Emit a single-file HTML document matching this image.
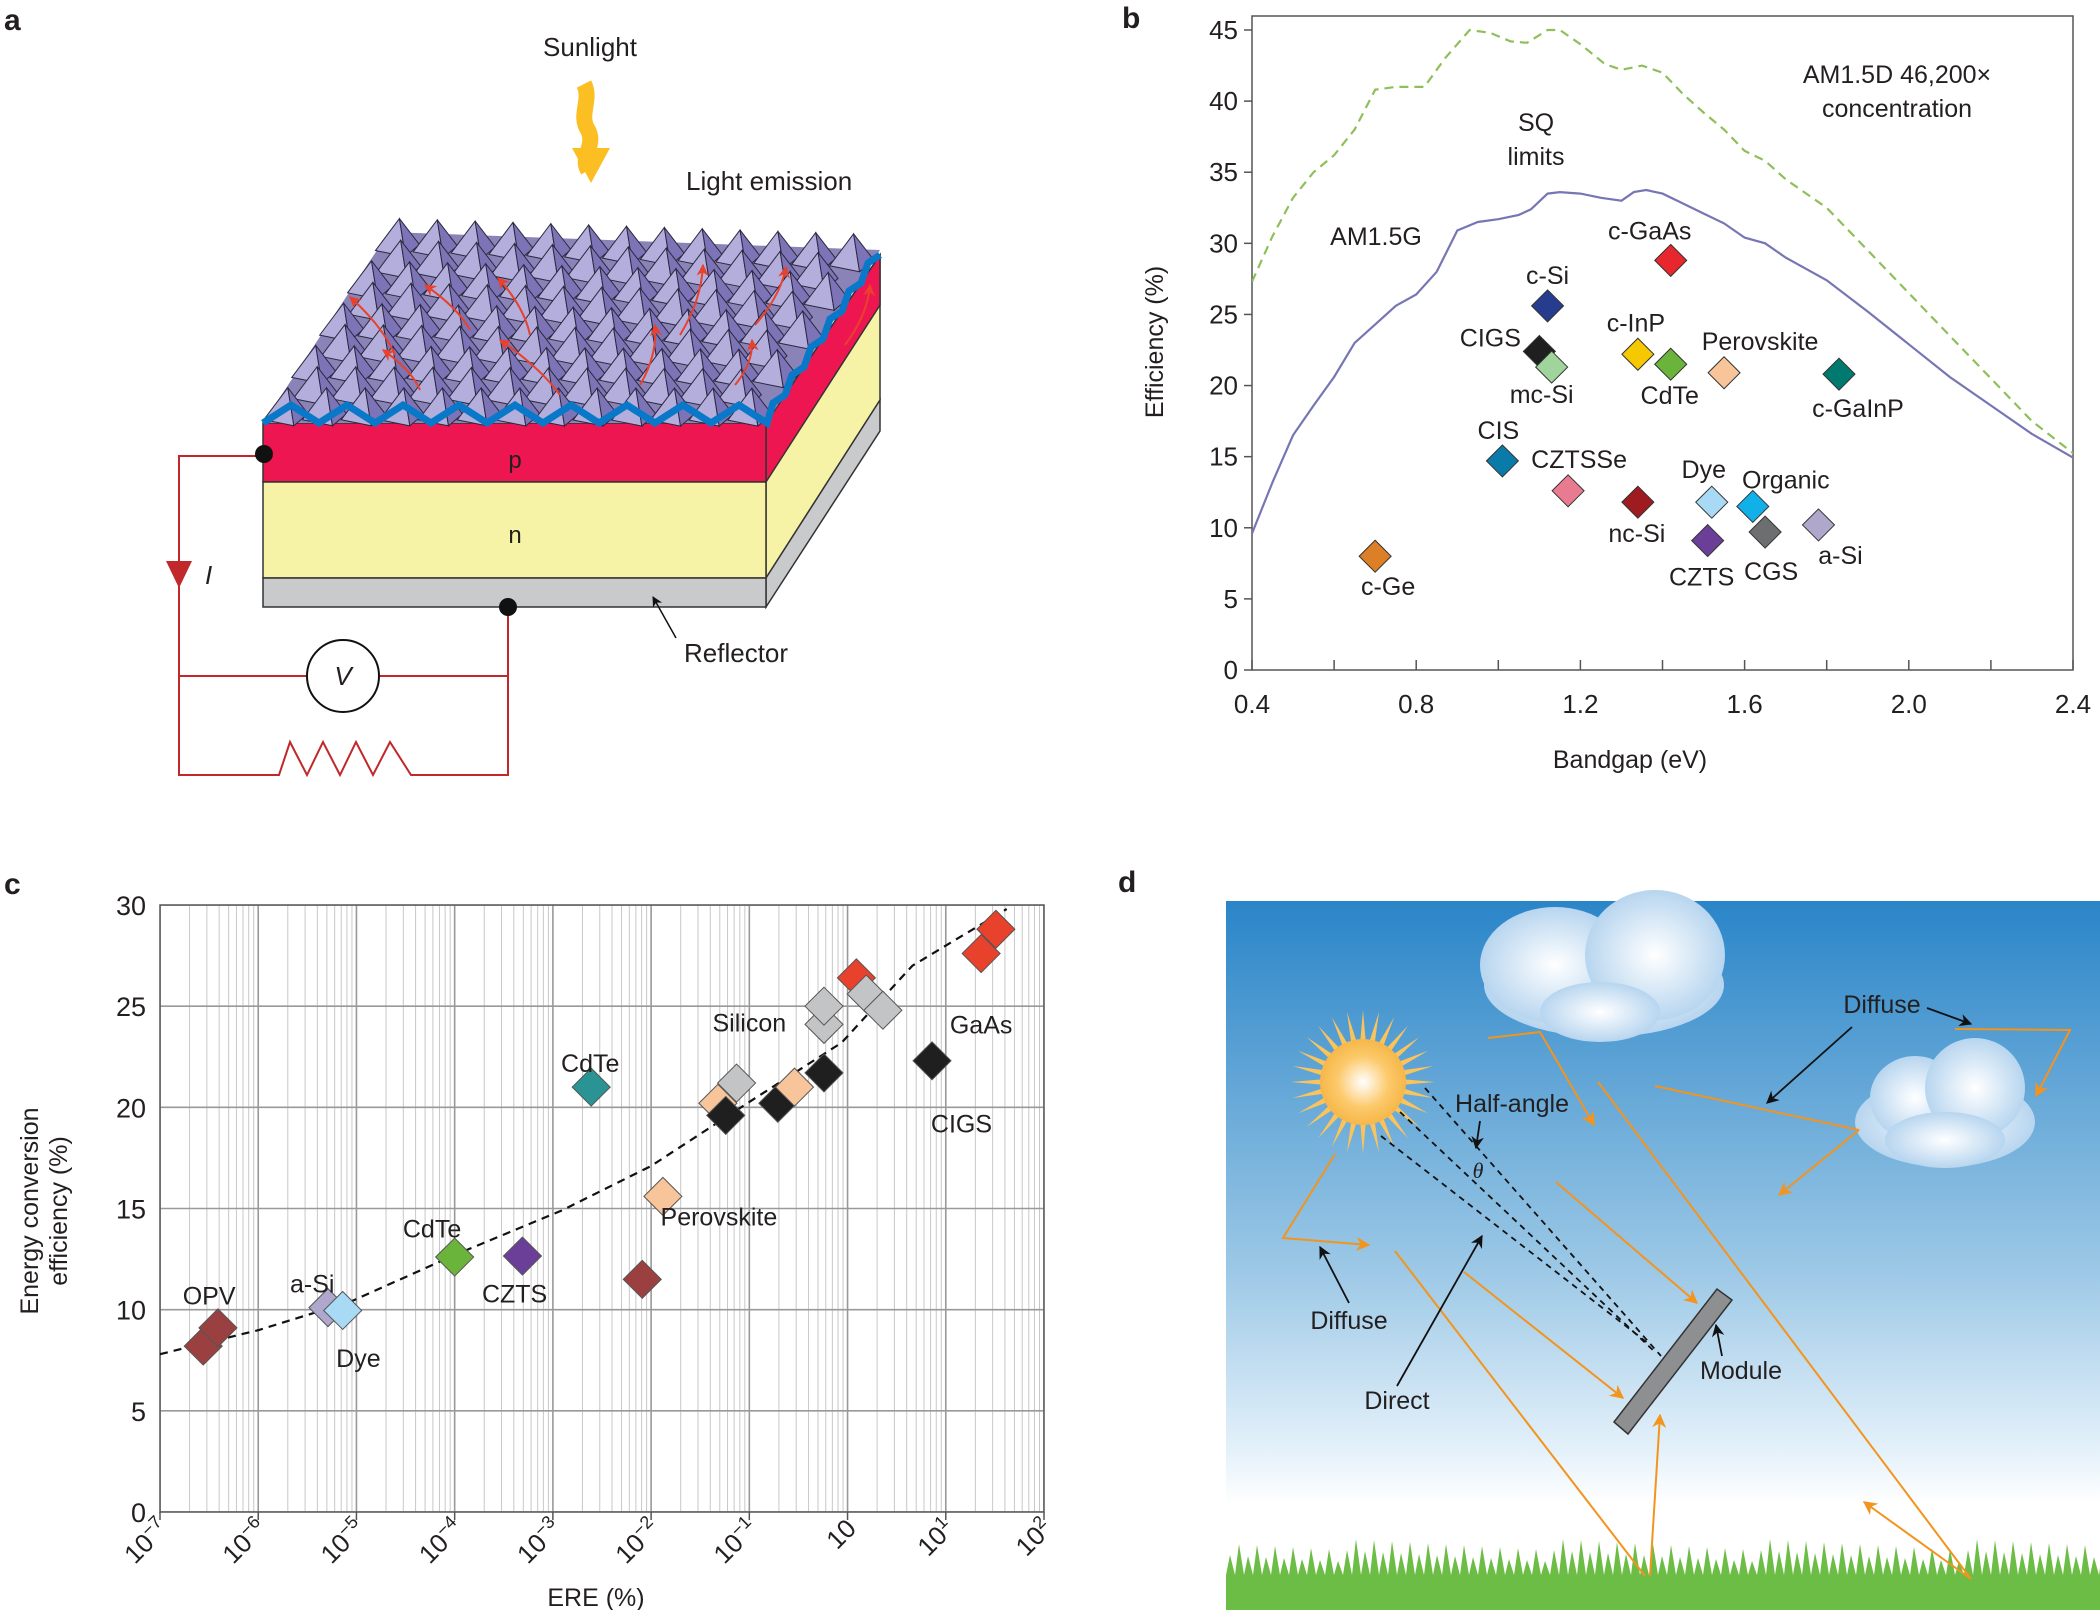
<!DOCTYPE html>
<html><head><meta charset="utf-8">
<style>
html,body{margin:0;padding:0;background:#fff;}
svg{display:block;font-family:"Liberation Sans",sans-serif;}
text{fill:#231f20;}
</style></head>
<body>
<svg id="fig" xmlns="http://www.w3.org/2000/svg" width="2100" height="1610" viewBox="0 0 2100 1610">
<defs>
  <linearGradient id="sky" x1="0" y1="0" x2="0" y2="1">
    <stop offset="0" stop-color="#2a85c8"/>
    <stop offset="0.55" stop-color="#9cc8e6"/>
    <stop offset="0.82" stop-color="#e4f1fa"/>
    <stop offset="0.9" stop-color="#ffffff"/>
    <stop offset="1" stop-color="#ffffff"/>
  </linearGradient>
  <radialGradient id="cloudg" cx="0.5" cy="0.5" r="0.6">
    <stop offset="0" stop-color="#ffffff"/>
    <stop offset="1" stop-color="#a9cdec"/>
  </radialGradient>
  <radialGradient id="sung" cx="0.5" cy="0.5" r="0.5">
    <stop offset="0" stop-color="#ffffff"/>
    <stop offset="0.6" stop-color="#fcc96a"/>
    <stop offset="1" stop-color="#f6b749"/>
  </radialGradient>
  <marker id="oa" viewBox="0 0 10 10" refX="9" refY="5" markerWidth="7" markerHeight="7" orient="auto-start-reverse"><path d="M0,0 L10,5 L0,10 L3,5 z" fill="#f2941e"/></marker>
  <marker id="ba" viewBox="0 0 10 10" refX="9" refY="5" markerWidth="7" markerHeight="7" orient="auto-start-reverse"><path d="M0,0 L10,5 L0,10 L3,5 z" fill="#111"/></marker>
  <marker id="ra" viewBox="0 0 10 10" refX="9" refY="5" markerWidth="6" markerHeight="6" orient="auto-start-reverse"><path d="M0,0 L10,5 L0,10 L3,5 z" fill="#e8412c"/></marker>
  <clipPath id="cclip"><rect x="160" y="905" width="884" height="607"/></clipPath>
  <clipPath id="bclip"><rect x="1252" y="16" width="821" height="654"/></clipPath>
</defs>

<!-- ================= PANEL A ================= -->
<g id="panelA">
  <text x="4" y="30" font-size="30" font-weight="bold">a</text>
  <text x="590" y="56" font-size="26" text-anchor="middle">Sunlight</text>
  <path d="M584,84 C592,100 578,115 588,130 C596,145 580,158 588,170" stroke="#fbbf24" stroke-width="16" fill="none"/>
  <polygon points="572,148 610,148 591,183" fill="#fbbf24"/>
  <text x="686" y="190" font-size="26">Light emission</text>
  <polygon points="766,423 880,255 880,400 766,578" fill="#f6f3a6" stroke="#333" stroke-width="1.5"/>
  <polygon points="766,423 880,255 880,305 766,482" fill="#ee1650" stroke="#333" stroke-width="1.5"/>
  <polygon points="766,578 880,400 880,431 766,607" fill="#c9cacc" stroke="#333" stroke-width="1.5"/>
  <rect x="263" y="423" width="503" height="59" fill="#ee1650" stroke="#333" stroke-width="1.5"/>
  <rect x="263" y="482" width="503" height="96" fill="#f6f3a6" stroke="#333" stroke-width="1.5"/>
  <rect x="263" y="578" width="503" height="29" fill="#c9cacc" stroke="#333" stroke-width="1.5"/>
  <polygon points="263,423 389,232 880,250 766,423" fill="#8a83b8"/>
  <g id="pyramids"></g>
  <path id="bluezig" d="" fill="none" stroke="#0a78c8" stroke-width="7"/>
  <g id="emit"></g>
  <text x="515" y="468" font-size="24" text-anchor="middle">p</text>
  <text x="515" y="543" font-size="24" text-anchor="middle">n</text>
  <g stroke="#c0282a" stroke-width="2" fill="none">
    <polyline points="263,456 179,456 179,775 279,775 290,742 307,775 323,742 340,775 356,742 373,775 390,742 411,775 508,775 508,607"/>
    <line x1="179" y1="676" x2="307" y2="676"/>
    <line x1="379" y1="676" x2="508" y2="676"/>
  </g>
  <polygon points="166,561 192,561 179,588" fill="#c0282a"/>
  <text x="205" y="584" font-size="26" font-style="italic">I</text>
  <circle cx="343" cy="676" r="36" fill="#fff" stroke="#111" stroke-width="2"/>
  <text x="343" y="685" font-size="26" font-style="italic" text-anchor="middle">V</text>
  <circle cx="264" cy="454" r="9" fill="#111"/>
  <circle cx="508" cy="607" r="9" fill="#111"/>
  <line x1="676" y1="638" x2="653" y2="597" stroke="#111" stroke-width="1.5" marker-end="url(#ba)"/>
  <text x="684" y="662" font-size="26">Reflector</text>
</g>

<!-- ================= PANEL B ================= -->
<g id="panelB">
  <text x="1122" y="28" font-size="30" font-weight="bold">b</text>
  <rect x="1252" y="16" width="821" height="654" fill="none" stroke="#555" stroke-width="1.5"/>
  <g id="bAxes"></g>
  <g id="bCurves" clip-path="url(#bclip)"></g>
  <g id="bPoints"></g>
  <text x="1897" y="83" font-size="25" text-anchor="middle">AM1.5D 46,200×</text>
  <text x="1897" y="117" font-size="25" text-anchor="middle">concentration</text>
  <text x="1536" y="131" font-size="25" text-anchor="middle">SQ</text>
  <text x="1536" y="165" font-size="25" text-anchor="middle">limits</text>
  <text x="1376" y="245" font-size="25" text-anchor="middle">AM1.5G</text>
  <text x="1630" y="768" font-size="25" text-anchor="middle">Bandgap (eV)</text>
  <text x="0" y="0" font-size="25" text-anchor="middle" transform="translate(1163,342) rotate(-90)">Efficiency (%)</text>
</g>

<!-- ================= PANEL C ================= -->
<g id="panelC">
  <text x="4" y="894" font-size="30" font-weight="bold">c</text>
  <rect x="160" y="905" width="884" height="607" fill="#fff"/>
  <g id="cGrid" clip-path="url(#cclip)"></g>
  <rect x="160" y="905" width="884" height="607" fill="none" stroke="#555" stroke-width="1.5"/>
  <g id="cAxes"></g>
  <g id="cFit"></g>
  <g id="cPoints"></g>
  <text x="596" y="1606" font-size="25" text-anchor="middle">ERE (%)</text>
  <text x="0" y="0" font-size="25" text-anchor="middle" transform="translate(38,1211) rotate(-90)">Energy conversion</text>
  <text x="0" y="0" font-size="25" text-anchor="middle" transform="translate(67,1211) rotate(-90)">efficiency (%)</text>
</g>

<!-- ================= PANEL D ================= -->
<g id="panelD">
  <text x="1118" y="892" font-size="30" font-weight="bold">d</text>
  <rect x="1226" y="901" width="874" height="670" fill="url(#sky)"/>
  <g id="grass"></g>
  <g fill="url(#cloudg)">
    <ellipse cx="1604" cy="985" rx="120" ry="52"/>
    <ellipse cx="1555" cy="965" rx="75" ry="58"/>
    <ellipse cx="1655" cy="955" rx="70" ry="65"/>
    <ellipse cx="1600" cy="1012" rx="60" ry="30"/>
  </g>
  <g fill="url(#cloudg)">
    <ellipse cx="1945" cy="1122" rx="90" ry="45"/>
    <ellipse cx="1915" cy="1098" rx="45" ry="42"/>
    <ellipse cx="1975" cy="1088" rx="50" ry="50"/>
    <ellipse cx="1945" cy="1140" rx="60" ry="28"/>
  </g>
  <g id="sun"></g>
  <g stroke="#111" stroke-width="1.8" stroke-dasharray="6,5" fill="none">
    <line x1="1425" y1="1088" x2="1661" y2="1356"/>
    <line x1="1400" y1="1112" x2="1655" y2="1352"/>
    <line x1="1381" y1="1136" x2="1649" y2="1344"/>
  </g>
  <g stroke="#f2941e" stroke-width="2" fill="none">
    <polyline points="1488,1038 1540,1032 1594,1125" marker-end="url(#oa)"/>
    <line x1="1598" y1="1082" x2="1971" y2="1579"/>
    <line x1="1655" y1="1086" x2="1859" y2="1130"/>
    <line x1="1859" y1="1130" x2="1779" y2="1195" marker-end="url(#oa)"/>
    <polyline points="1955,1029 2070,1030 2036,1096" marker-end="url(#oa)"/>
    <line x1="1556" y1="1182" x2="1697" y2="1303" marker-end="url(#oa)"/>
    <polyline points="1335,1154 1283,1238 1369,1245" marker-end="url(#oa)"/>
    <line x1="1395" y1="1251" x2="1645" y2="1576"/>
    <line x1="1464" y1="1272" x2="1623" y2="1398" marker-end="url(#oa)"/>
    <line x1="1650" y1="1576" x2="1660" y2="1415" marker-end="url(#oa)"/>
    <line x1="1971" y1="1579" x2="1864" y2="1502" marker-end="url(#oa)"/>
  </g>
  <polygon points="1614,1422 1717,1289 1732,1300 1628,1434" fill="#8e8f91" stroke="#333" stroke-width="1.5"/>
  <g stroke="#111" stroke-width="1.8" fill="none">
    <line x1="1927" y1="1008" x2="1971" y2="1024" marker-end="url(#ba)"/>
    <line x1="1852" y1="1027" x2="1767" y2="1103" marker-end="url(#ba)"/>
    <line x1="1480" y1="1121" x2="1476" y2="1148" marker-end="url(#ba)"/>
    <line x1="1349" y1="1303" x2="1320" y2="1247" marker-end="url(#ba)"/>
    <line x1="1397" y1="1386" x2="1482" y2="1236" marker-end="url(#ba)"/>
    <line x1="1722" y1="1356" x2="1716" y2="1325" marker-end="url(#ba)"/>
  </g>
  <text x="1882" y="1013" font-size="25" text-anchor="middle">Diffuse</text>
  <text x="1512" y="1112" font-size="25" text-anchor="middle">Half-angle</text>
  <text x="1478" y="1178" font-size="22" font-style="italic" text-anchor="middle" font-family="Liberation Serif, serif">θ</text>
  <text x="1349" y="1329" font-size="25" text-anchor="middle">Diffuse</text>
  <text x="1397" y="1409" font-size="25" text-anchor="middle">Direct</text>
  <text x="1741" y="1379" font-size="25" text-anchor="middle">Module</text>
</g>
</svg>

<script>
// ---------- Panel B data ----------
const bNames = ["c-GaAs","c-Si","CIGS","mc-Si","c-InP","CdTe","Perovskite","c-GaInP","CIS","CZTSSe","nc-Si","Dye","Organic","CZTS","CGS","a-Si","c-Ge"];
const bBandgap = [1.42,1.12,1.10,1.13,1.34,1.42,1.55,1.83,1.01,1.17,1.34,1.52,1.62,1.51,1.65,1.78,0.70];
const bEff = [28.8,25.6,22.4,21.3,22.2,21.5,20.9,20.8,14.7,12.6,11.8,11.8,11.5,9.1,9.7,10.2,8.0];
const bColors = ["#e8262d","#263d8f","#1f1f1f","#9fd49a","#f5c800","#6ab43c","#f8c49a","#007a6e","#0a7aa8","#e87b8f","#9e1b20","#a8daf5","#12b0e8","#6b3f98","#6d6e70","#b0a8cc","#dd7f26"];
const bLabelDX = [-21,0,-49,-10,-2,-1,36,19,-4,11,-1,-8,33,-6,6,22,13];
const bLabelDY = [-30,-31,-14,27,-32,31,-32,34,-31,-32,31,-33,-27,36,39,30,30];
const bXTicks = [0.4,0.8,1.2,1.6,2.0,2.4];
const bYTicks = [0,5,10,15,20,25,30,35,40,45];
const sqG_x = [0.40,0.45,0.50,0.55,0.60,0.65,0.70,0.75,0.80,0.85,0.90,0.95,1.00,1.05,1.08,1.12,1.15,1.20,1.25,1.30,1.33,1.36,1.40,1.45,1.50,1.55,1.60,1.65,1.70,1.80,1.90,2.00,2.10,2.20,2.30,2.42];
const sqG_y = [9.6,13.2,16.5,18.6,20.6,23.0,24.3,25.6,26.4,28.0,30.9,31.5,31.7,32.0,32.4,33.5,33.6,33.5,33.2,33.0,33.6,33.75,33.5,32.8,32.1,31.4,30.4,30.0,29.0,27.4,25.2,22.9,20.6,18.6,16.6,14.6];
const sqD_x = [0.40,0.45,0.50,0.55,0.60,0.65,0.70,0.75,0.82,0.87,0.93,0.98,1.03,1.07,1.12,1.15,1.20,1.26,1.30,1.35,1.40,1.45,1.50,1.55,1.60,1.65,1.70,1.80,1.90,2.00,2.10,2.20,2.30,2.42];
const sqD_y = [27.3,30.5,33.2,35.0,36.2,38.0,40.8,41.0,41.0,43.0,45.0,44.8,44.2,44.1,45.0,45.0,44.0,42.6,42.2,42.5,42.0,40.5,39.2,38.0,36.5,35.8,34.5,32.5,29.5,26.5,23.5,20.5,17.5,14.8];

// ---------- Panel C data ----------
const cLogERE = [-6.56,-6.41,-5.29,-5.14,-4.0,-3.31,-2.61,-2.09,-1.88,-1.32,-1.13,-1.24,-0.71,-0.54,-0.24,-0.24,-0.24,0.09,0.19,0.36,0.86,1.36,1.51];
const cEff = [8.2,9.1,10.1,9.96,12.6,12.65,21.0,11.5,15.6,20.2,21.2,19.6,20.2,21.0,24.1,25.0,21.7,26.4,25.6,24.8,22.3,27.6,28.8];
const cColors = ["#9b4040","#9b4040","#b0a8cc","#a8daf5","#6ab43c","#6b3f98","#2a9393","#9b4040","#f8c49a","#f8c49a","#c3c4c6","#1f1f1f","#1f1f1f","#f8c49a","#c3c4c6","#c3c4c6","#1f1f1f","#e8412c","#c3c4c6","#c3c4c6","#1f1f1f","#e8412c","#e8412c"];
const cFitX = [-7,-5.99,-5.06,-4,-2.91,-2,-0.99,-0.06,0.66,1.62];
const cFitY = [7.8,9.0,10.4,12.7,14.9,17.1,20.3,23.2,27.0,29.8];
const cLabels = ["OPV","a-Si","Dye","CdTe","CZTS","CdTe","Perovskite","Silicon","GaAs","CIGS"];
const cLabelX = [-6.5,-5.45,-4.98,-4.23,-3.39,-2.62,-1.31,-1.0,1.36,1.16];
const cLabelY = [10.7,11.3,7.6,14.0,10.8,22.2,14.6,24.2,24.1,19.2];
const cXExp = [-7,-6,-5,-4,-3,-2,-1,0,1,2];
const cXTickText = ["10","10","10","10","10","10","10","10","10","10"];
const cXTickSup = ["−7","−6","−5","−4","−3","−2","−1","","1","2"];
const cYTicks = [0,5,10,15,20,25,30];

const NS = "http://www.w3.org/2000/svg";
function mk(tag, attrs, parent){ const e=document.createElementNS(NS,tag); for(const k in attrs) e.setAttribute(k,attrs[k]); if(parent) parent.appendChild(e); return e; }

// ---- B scales
const xb = v => 1252 + (v-0.4)/2*821;
const yb = v => 670 - v/45*640;
const bAxes = document.getElementById('bAxes');
bYTicks.forEach(t=>{
  const l = mk('line',{x1:1244,x2:1252,y1:yb(t),y2:yb(t),stroke:'#555','stroke-width':1.5},bAxes);
  
  
  const tx = mk('text',{x:1238,y:yb(t)+9,'font-size':26,'text-anchor':'end'},bAxes);
  tx.textContent = t;
  
  
});
for(let k=0; k<=10; k++){
  const v = 0.4 + k*0.2;
  const l = mk('line',{x1:xb(v),x2:xb(v),y1:670,y2:660,stroke:'#555','stroke-width':1.5},bAxes);
  
  
}
bXTicks.forEach(t=>{
  const tx = mk('text',{x:xb(t),y:713,'font-size':26,'text-anchor':'middle'},bAxes);
  tx.textContent = t.toFixed(1);
  
  
});
const bCurves = document.getElementById('bCurves');
const dG = sqG_x.map((x,i)=>(i?'L':'M')+xb(x).toFixed(1)+','+yb(sqG_y[i]).toFixed(1)).join(' ');
const pg = mk('path',{d:dG,fill:'none',stroke:'#7676b4','stroke-width':2.2},bCurves);


const dD = sqD_x.map((x,i)=>(i?'L':'M')+xb(x).toFixed(1)+','+yb(sqD_y[i]).toFixed(1)).join(' ');
const pd = mk('path',{d:dD,fill:'none',stroke:'#8fbf5a','stroke-width':2.2,'stroke-dasharray':'9,6'},bCurves);


const bPts = document.getElementById('bPoints');
bNames.forEach((n,i)=>{
  const cx=xb(bBandgap[i]), cy=yb(bEff[i]), r=16;
  const p = mk('polygon',{points:`${cx},${cy-r} ${cx+r},${cy} ${cx},${cy+r} ${cx-r},${cy}`,fill:bColors[i],stroke:'#333','stroke-width':1},bPts);
  
  
  const t = mk('text',{x:cx+bLabelDX[i],y:cy+bLabelDY[i]+9,'font-size':25,'text-anchor':'middle'},bPts);
  t.textContent = n;
  
  
});

// ---- C scales
const xc = lv => 160 + (lv+7)/9*884;
const yc = v => 1512 - v/30*607;
const cGrid = document.getElementById('cGrid');
for(let d=-7; d!==2; d++){
  for(let m=2; m!==10; m++){
    const x = xc(d+Math.log10(m));
    const l = mk('line',{x1:x,x2:x,y1:905,y2:1512,stroke:'#c8c8c8','stroke-width':1},cGrid);
    
    
  }
}
cXExp.forEach(e=>{
  const l = mk('line',{x1:xc(e),x2:xc(e),y1:905,y2:1512,stroke:'#999','stroke-width':1.6},cGrid);
  
  
});
cYTicks.forEach(t=>{
  const l = mk('line',{x1:160,x2:1044,y1:yc(t),y2:yc(t),stroke:'#999','stroke-width':1.6},cGrid);
  
  
});
const cAxes = document.getElementById('cAxes');
cYTicks.forEach(t=>{
  const tx = mk('text',{x:146,y:yc(t)+10,'font-size':27,'text-anchor':'end'},cAxes);
  tx.textContent = t;
  
  
});
cXExp.forEach((e,i)=>{
  const x = xc(e);
  const l = mk('line',{x1:x,x2:x,y1:1512,y2:1520,stroke:'#555','stroke-width':1.5},cAxes);
  
  
  const tx = mk('text',{x:0,y:0,'font-size':26,'text-anchor':'end',transform:`translate(${x+10},${1530}) rotate(-45)`},cAxes);
  tx.textContent = cXTickText[i];
  if(cXTickSup[i]){ const s = mk('tspan',{dy:-10,'font-size':18},tx); s.textContent = cXTickSup[i]; }
  
  
});
const cFit = document.getElementById('cFit');
const fp = mk('path',{d:cFitX.map((x,i)=>(i?'L':'M')+xc(x).toFixed(1)+','+yc(cFitY[i]).toFixed(1)).join(' '),fill:'none',stroke:'#111','stroke-width':2.2,'stroke-dasharray':'8,6'},cFit);


const cPts = document.getElementById('cPoints');
cLogERE.forEach((lv,i)=>{
  const cx=xc(lv), cy=yc(cEff[i]), r=19;
  const p = mk('polygon',{points:`${cx},${cy-r} ${cx+r},${cy} ${cx},${cy+r} ${cx-r},${cy}`,fill:cColors[i],stroke:'#555','stroke-width':1},cPts);
  
  
});
cLabels.forEach((n,i)=>{
  const t = mk('text',{x:xc(cLabelX[i]),y:yc(cLabelY[i])+9,'font-size':25,'text-anchor':'middle'},cPts);
  t.textContent = n;
  
  
});

// ---- Panel A pyramids (decorative)
const pyr = document.getElementById('pyramids');
const FL=[263,423], FR=[766,423], BL=[389,232], BR=[880,250];
function surf(u,v){
  const fx=FL[0]+(FR[0]-FL[0])*u, fy=FL[1]+(FR[1]-FL[1])*u;
  const bx=BL[0]+(BR[0]-BL[0])*u, by=BL[1]+(BR[1]-BL[1])*u;
  return [fx+(bx-fx)*v, fy+(by-fy)*v];
}
const NU=13, NV=9;
for(let j=NV-1;j>=0;j--){
  for(let i=0;i!==NU;i++){
    const u=(i+0.5+(j%2)*0.4)/NU, v=(j+0.25)/NV;
    if(u>0.97) continue;
    const [x,y]=surf(u,v);
    const w=22, h=30;
    const g = mk('g',{},pyr);
    mk('polygon',{points:`${x+2},${y-h} ${x-w},${y+2} ${x+8},${y+8}`,fill:'#b3aedc',stroke:'#2c2840','stroke-width':1},g);
    mk('polygon',{points:`${x+2},${y-h} ${x+8},${y+8} ${x+w},${y-4}`,fill:'#7c74b6',stroke:'#2c2840','stroke-width':1},g);
  }
}
let zz='M263,423';
for(let k=0;k!==9;k++){ const x0=263+k*56; zz+=` L${x0+28},405 L${x0+56},423`; }
for(let k=1;k!==7;k++){ const t=k/6; const x=766+114*t, y=423-168*t; zz+=` L${x-12},${y+8} L${x},${y}`; }
document.getElementById('bluezig').setAttribute('d',zz);
const emit = document.getElementById('emit');
[[395,355,350,297],[470,330,425,285],[530,335,498,278],[420,390,383,350],[560,395,500,340],[680,335,703,265],[755,325,786,267],[845,345,870,285],[640,385,655,325],[735,385,752,340]].forEach(a=>{
  mk('path',{d:`M${a[0]},${a[1]} Q${(a[0]+a[2])/2+10},${(a[1]+a[3])/2} ${a[2]},${a[3]}`,fill:'none',stroke:'#e8412c','stroke-width':2,'marker-end':'url(#ra)'},emit);
});

// ---- Panel D: sun and grass (decorative)
const sun = document.getElementById('sun');
let rays='';
for(let k=0;k!==28;k++){
  const a=k/28*2*Math.PI, a1=a-0.07, a2=a+0.07, R=72, r=40;
  rays+=`M${1363+r*Math.cos(a1)},${1082+r*Math.sin(a1)} L${1363+R*Math.cos(a)},${1082+R*Math.sin(a)} L${1363+r*Math.cos(a2)},${1082+r*Math.sin(a2)} Z `;
}
mk('path',{d:rays,fill:'#fbc35c'},sun);
mk('circle',{cx:1363,cy:1082,r:43,fill:'url(#sung)'},sun);
const grass = document.getElementById('grass');
let gd='M1226,1610 L1226,1575';
for(let x=1226;x < 2100;x+=9){ const h=14+((x*37)%23); gd+=` L${x+4},${1575-h} L${x+9},1575`; }
gd+=' L2100,1610 Z';
mk('path',{d:gd,fill:'#6cbd45'},grass);
mk('rect',{x:1226,y:1575,width:874,height:35,fill:'#6cbd45'},grass);
</script>
</body></html>
